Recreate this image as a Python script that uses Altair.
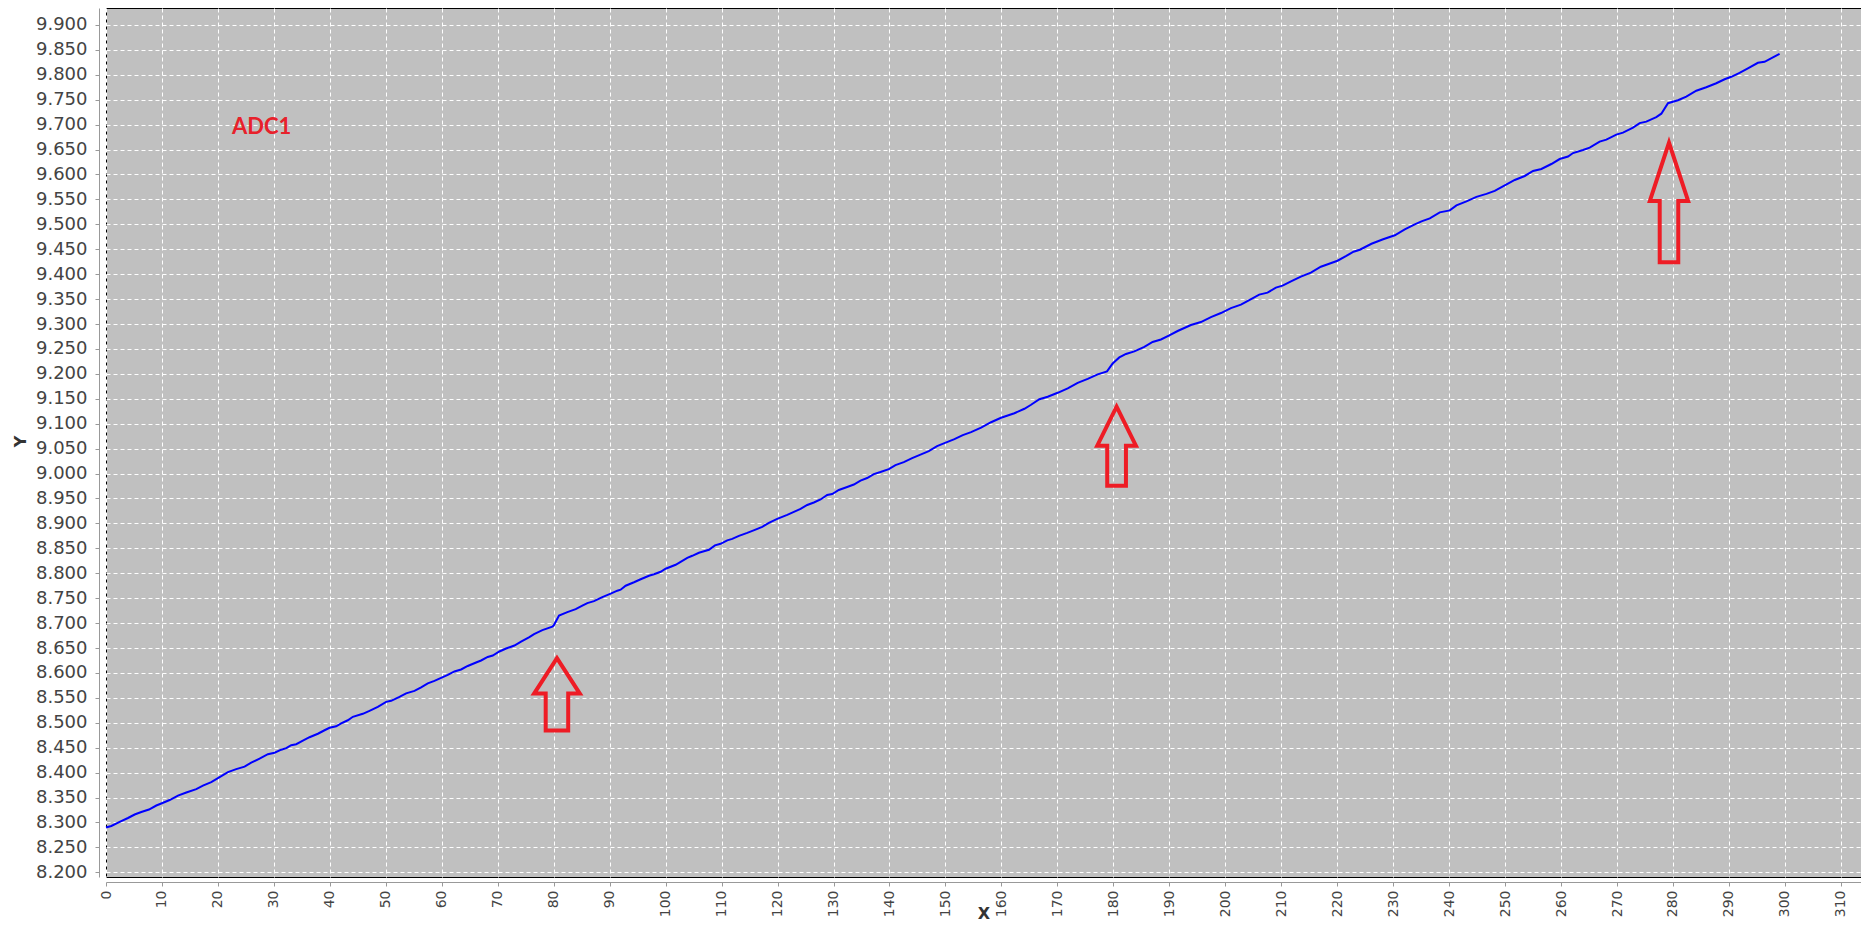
import altair as alt
import pandas as pd

# ---- line data ----
x_vals = [0, 0.95, 2.44, 3.93, 5.12, 6.31, 7.68, 8.99, 9.88, 11.37, 12.86, 14.35, 16.13, 17.32, 18.81,
          20.30, 21.79, 23.27, 24.76, 25.95, 27.44, 28.93, 30.12, 31.31, 32.20, 33.10, 33.99, 35.18,
          36.37, 37.86, 39.05, 39.94, 41.13, 42.02, 43.21, 44.11, 45.89, 47.08, 48.57, 50.06, 50.95,
          52.44, 53.63, 55.12, 56.31, 57.50, 58.69, 59.88, 61.07, 62.26, 63.45, 64.64, 66.13, 67.02,
          68.21, 69.11, 70.30, 71.49, 72.98, 74.17, 75.65,
          76.49, 77.98, 79.76, 80.0, 80.95, 82.44, 83.93, 85.12, 86.01, 87.2, 88.69, 90.18, 91.37,
          91.96, 92.86, 94.35, 95.54, 97.02, 97.92, 99.11, 100.0, 101.79, 102.68, 103.87, 104.76,
          105.95, 106.85, 107.74, 108.81, 109.82, 111.01, 111.9, 113.1, 114.58, 115.95, 117.26,
          118.45, 119.94, 121.73, 122.92, 124.11, 125.3, 126.49, 127.68, 128.87, 129.76, 130.95,
          132.44, 133.63, 134.82, 136.01, 137.2, 138.39, 139.88, 141.07, 142.56, 144.05, 145.54,
          147.02, 148.51,
          149.82, 151.61, 153.1, 154.58, 156.37, 158.15, 159.94, 162.32, 164.11, 165.3, 166.79,
          168.27, 170.06, 171.85, 173.63, 175.42, 177.2, 178.87, 179.88, 181.07, 182.26, 183.75,
          185.54, 187.02, 188.51, 190.0, 191.49, 193.87, 195.65, 197.44, 199.23, 201.01, 202.8,
          204.29, 206.07, 207.56, 209.05, 210.24, 212.02, 213.51, 215.3, 217.08, 218.57, 220.06,
          221.55, 222.92,
          224.05, 226.13, 228.21, 230.3, 232.08, 233.87, 235.06, 236.55, 238.33, 240.12, 241.31,
          243.1, 244.88, 246.67, 248.15, 249.94, 251.73, 253.51, 255.0, 256.49, 258.27, 259.76,
          261.25, 262.14, 263.93, 265.12, 266.9, 268.1, 269.88, 271.07, 272.86, 274.05, 275.24,
          277.02, 277.92, 279.11, 280.89, 282.38, 284.17, 285.95, 287.74, 289.23, 290.42, 291.9,
          293.39, 295.18, 296.37, 297.86, 299.05]
y_vals = [8.290, 8.293, 8.301, 8.309, 8.316, 8.321, 8.326, 8.334, 8.338, 8.345, 8.354, 8.360, 8.367,
          8.374, 8.381, 8.391, 8.401, 8.407, 8.412, 8.420, 8.428, 8.437, 8.440, 8.446, 8.449, 8.455,
          8.457, 8.464, 8.471, 8.478, 8.485, 8.490, 8.493, 8.499, 8.505, 8.512, 8.518, 8.524, 8.532,
          8.542, 8.544, 8.552, 8.559, 8.564, 8.571, 8.579, 8.584, 8.590, 8.596, 8.603, 8.607, 8.614,
          8.621, 8.625, 8.632, 8.635, 8.643, 8.649, 8.655, 8.663, 8.672,
          8.678, 8.686, 8.693, 8.695, 8.715, 8.722, 8.728, 8.735, 8.740, 8.744, 8.752, 8.759, 8.765,
          8.767, 8.775, 8.782, 8.788, 8.795, 8.798, 8.803, 8.809, 8.817, 8.823, 8.831, 8.835, 8.841,
          8.844, 8.847, 8.856, 8.859, 8.866, 8.869, 8.875, 8.881, 8.887, 8.893, 8.901, 8.909, 8.917,
          8.923, 8.929, 8.937, 8.942, 8.948, 8.957, 8.959, 8.967, 8.973, 8.978, 8.986, 8.991, 8.999,
          9.003, 9.009, 9.017, 9.023, 9.031, 9.038, 9.045, 9.055,
          9.061, 9.069, 9.077, 9.083, 9.092, 9.103, 9.112, 9.121, 9.130, 9.138, 9.149, 9.154, 9.162,
          9.171, 9.182, 9.190, 9.199, 9.205, 9.221, 9.233, 9.240, 9.245, 9.254, 9.264, 9.269, 9.277,
          9.286, 9.298, 9.304, 9.314, 9.322, 9.332, 9.339, 9.348, 9.359, 9.363, 9.373, 9.377, 9.387,
          9.395, 9.403, 9.415, 9.421, 9.427, 9.436, 9.445,
          9.449, 9.461, 9.470, 9.478, 9.490, 9.500, 9.506, 9.512, 9.524, 9.528, 9.538, 9.546, 9.555,
          9.561, 9.567, 9.578, 9.589, 9.597, 9.607, 9.611, 9.621, 9.631, 9.636, 9.643, 9.649, 9.654,
          9.666, 9.670, 9.680, 9.684, 9.694, 9.703, 9.706, 9.715, 9.722, 9.743, 9.749, 9.756, 9.768,
          9.775, 9.783, 9.791, 9.796, 9.804, 9.813, 9.824, 9.826, 9.835, 9.842]

x_ticks = [0, 10, 20, 30, 40, 50, 60, 70, 80, 90, 100, 110, 120, 130, 140, 150, 160, 170, 180,
           190, 200, 210, 220, 230, 240, 250, 260, 270, 280, 290, 300, 310]
y_ticks = [8.20, 8.25, 8.30, 8.35, 8.40, 8.45, 8.50, 8.55, 8.60, 8.65, 8.70, 8.75, 8.80, 8.85,
           8.90, 8.95, 9.00, 9.05, 9.10, 9.15, 9.20, 9.25, 9.30, 9.35, 9.40, 9.45, 9.50, 9.55,
           9.60, 9.65, 9.70, 9.75, 9.80, 9.85, 9.90]

label_text = ["ADC1"]
label_x = [22.5]
label_y = [9.695]

arrow_x = [80.58, 180.58, 279.29]
arrow_y = [8.557, 9.055, 9.544]

line_df = pd.DataFrame({"x": x_vals, "y": y_vals})
label_df = pd.DataFrame({"x": label_x, "y": label_y, "t": label_text})

xs = alt.Scale(domain=[0, 313.6], nice=False, zero=False)
ys = alt.Scale(domain=[8.1906, 9.934], nice=False, zero=False)

FONT = "DejaVu Sans"

x_axis = alt.Axis(values=x_ticks, labelAngle=270, labelFont=FONT, labelFontSize=14,
                  labelColor="#444444", tickColor="#999999", domainColor="#999999",
                  tickSize=4, labelPadding=4, offset=5, grid=True, gridColor="#ffffff",
                  gridDash=[4, 3], gridWidth=1, gridOpacity=1, labelOverlap=False,
                  labelFlush=False, title="X", titleFont=FONT, titleFontSize=16,
                  titleFontWeight="bold", titleColor="#333333", titleY=23,
                  titleBaseline="top")
y_axis = alt.Axis(values=y_ticks, format=".3f", labelFont=FONT, labelFontSize=18,
                  labelColor="#444444", tickColor="#999999", domainColor="#999999",
                  tickSize=4, labelPadding=8, offset=7, grid=True, gridColor="#ffffff",
                  gridDash=[4, 3], gridWidth=1, gridOpacity=1, labelOverlap=False,
                  labelFlush=False, title="Y", titleFont=FONT, titleFontSize=16,
                  titleFontWeight="bold", titleColor="#333333", titleX=-71, titleY=433,
                  titleAngle=270, titleBaseline="bottom")

X = lambda: alt.X("x:Q", scale=xs, axis=x_axis)
Y = lambda: alt.Y("y:Q", scale=ys, axis=y_axis)

line = alt.Chart(line_df).mark_line(color="#0000ff", strokeWidth=2).encode(x=X(), y=Y())

text = alt.Chart(label_df).mark_text(
    align="left", baseline="middle", font="Lato", fontSize=22, fontWeight="bold",
    color="#e8212b"
).encode(x=X(), y=Y(), text="t:N")

arrow_shapes = [
    "M0,-1 L0.631,-0.022 L0.311,-0.022 L0.311,1 L-0.311,1 L-0.311,-0.022 L-0.631,-0.022 Z",
    "M0,-1 L0.49,-0.013 L0.237,-0.013 L0.237,1 L-0.237,1 L-0.237,-0.013 L-0.49,-0.013 Z",
    "M0,-1 L0.32,-0.025 L0.155,-0.025 L0.155,1 L-0.155,1 L-0.155,-0.025 L-0.32,-0.025 Z",
]
arrow_sizes = [5242, 6241, 14328]

arrows = []
for i in range(3):
    adf = pd.DataFrame({"x": [arrow_x[i]], "y": [arrow_y[i]]})
    arrows.append(
        alt.Chart(adf).mark_point(
            shape=arrow_shapes[i], size=arrow_sizes[i], filled=False,
            stroke="#ee1c25", strokeWidth=4, strokeJoin="miter", opacity=1
        ).encode(x=X(), y=Y())
    )

chart = alt.layer(line, text, *arrows).properties(
    width=1755, height=869,
    autosize=alt.AutoSizeParams(type="none"),
    padding={"left": 98, "top": 0, "right": 0, "bottom": 45},
).configure_view(fill="#c0c0c0", stroke="#000000", strokeWidth=1)

chart.save("out.html", embed_options={"renderer": "svg", "actions": False})
